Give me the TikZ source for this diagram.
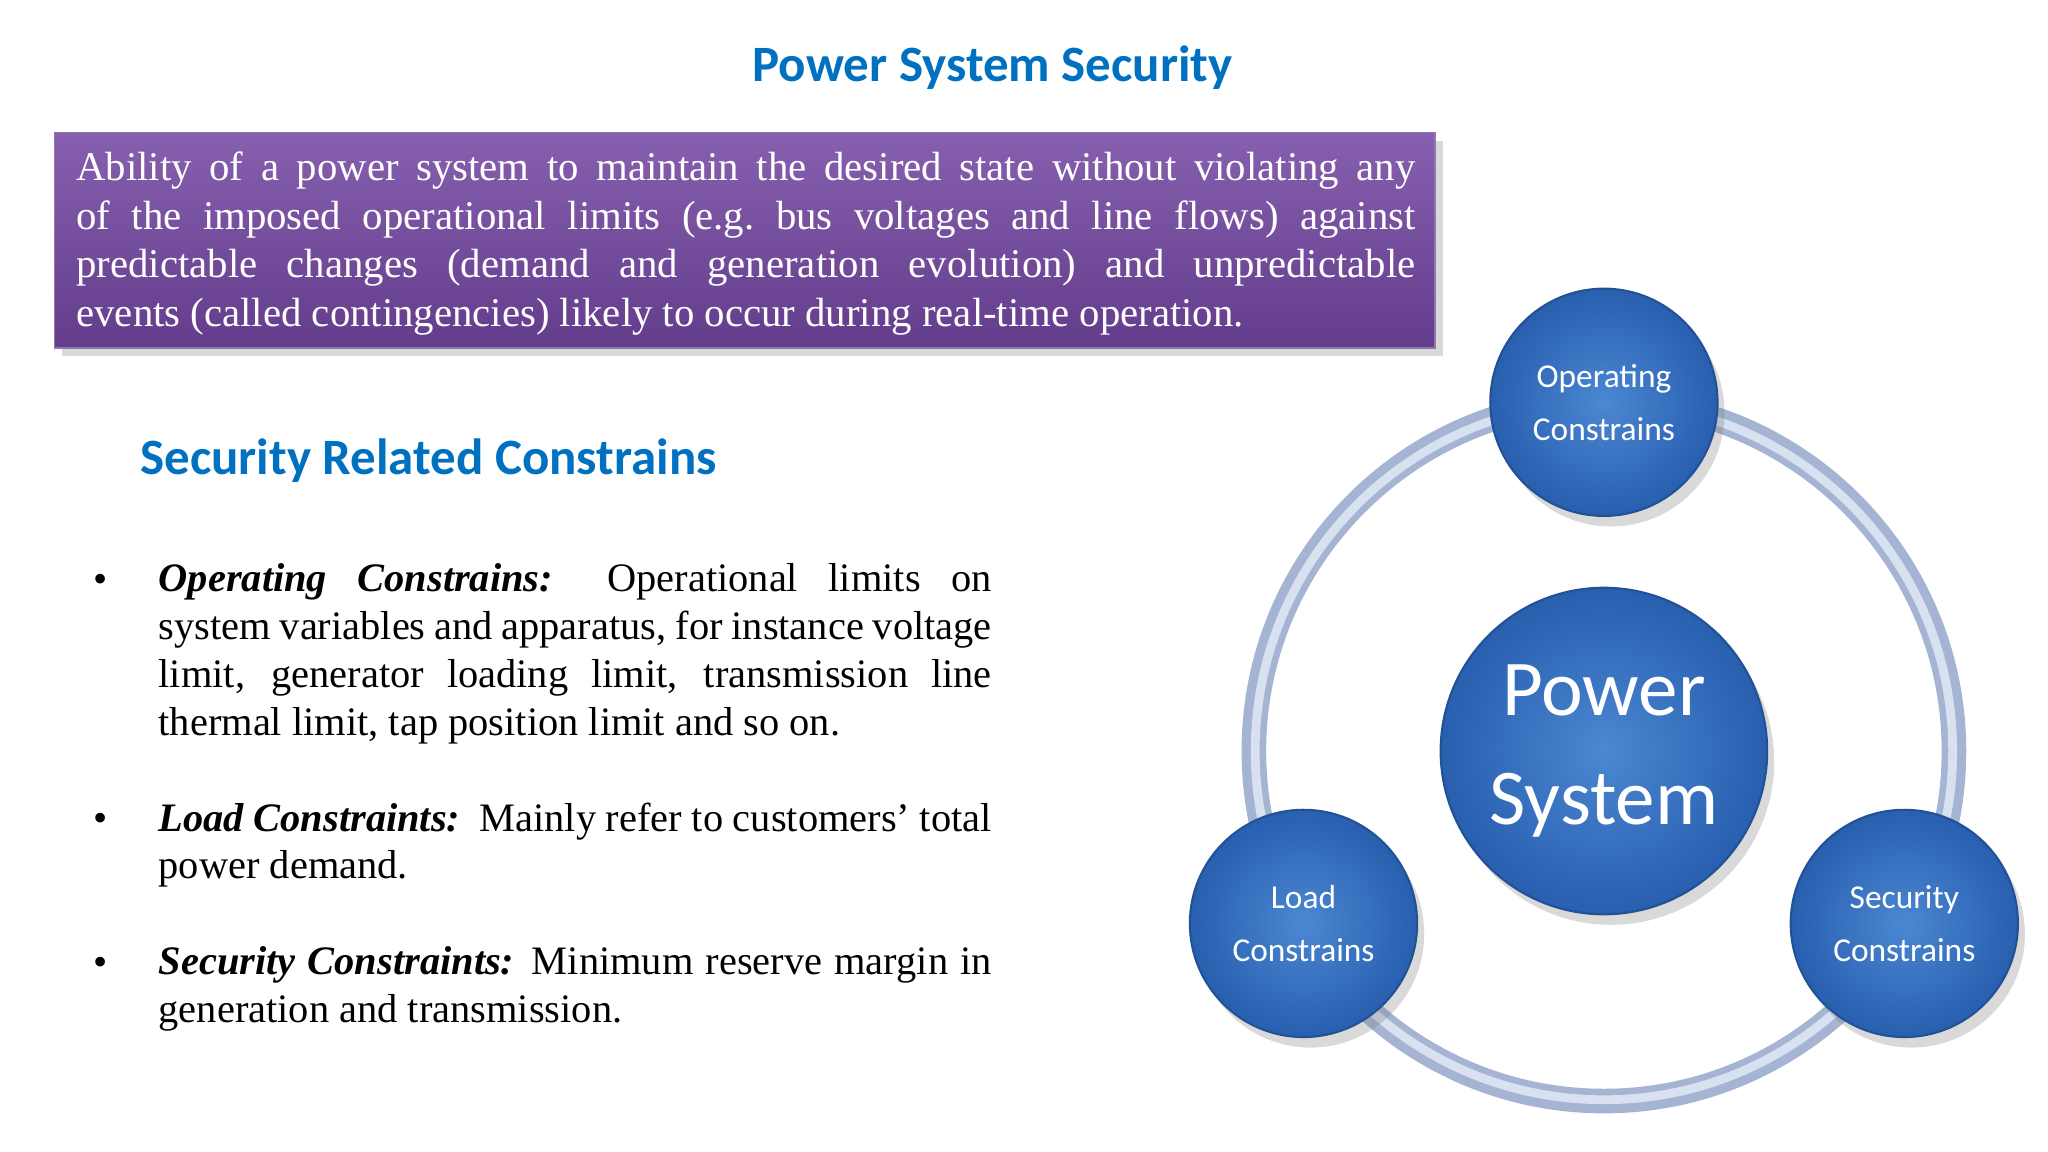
\documentclass[tikz,border=0pt]{standalone}
\usepackage{fontspec}
\setmainfont{Liberation Serif}
\newfontfamily\calfnt{Carlito}
\usetikzlibrary{shadows}
\definecolor{ttl}{RGB}{0,112,192}
\definecolor{ptop}{RGB}{135,95,175}
\definecolor{pbot}{RGB}{100,60,140}
\definecolor{bin}{RGB}{75,135,210}
\definecolor{bout}{RGB}{40,95,175}
\definecolor{ring}{RGB}{165,180,210}
\definecolor{ringin}{RGB}{215,225,240}
\tikzset{
 ball/.style={circle,inner color=bin,outer color=bout,draw=bout!85!black,line width=0.6pt,text=white,align=center,font=\calfnt\fontsize{9.5}{15}\selectfont,drop shadow={opacity=0.3,shadow xshift=2pt,shadow yshift=-3pt}},
 ttlfont/.style={text=ttl,font=\calfnt\bfseries\fontsize{14.5}{17}\selectfont},
 bul/.style={anchor=north west,text width=237pt,align=justify,font=\fontsize{11.5}{13.6}\selectfont,inner sep=0pt},
 dot/.style={font=\fontsize{11.5}{13.6}\selectfont,inner sep=0pt}
}
\hyphenpenalty=10000 \exhyphenpenalty=10000
\begin{document}
\begin{tikzpicture}[x=0.01306cm,y=-0.01306cm]
\useasboundingbox (0,0) rectangle (1568,882);
\node[ttlfont] (title) at (760,52) {Power System Security};
\node[anchor=north west,minimum width=1057*0.01306cm,minimum height=165*0.01306cm,top color=ptop,bottom color=pbot,draw=pbot!70!white,drop shadow={opacity=0.3}] (box) at (41,101) {};
\node[anchor=north west,text width=381pt,align=justify,text=white,font=\fontsize{11.6}{13.8}\selectfont,inner sep=0pt] (boxtxt) at (58,116) {Ability of a power system to maintain the desired state without violating any\linebreak of the imposed operational limits (e.g.\ bus voltages and line flows) against\linebreak predictable changes (demand and generation evolution) and unpredictable\linebreak events (called contingencies) likely to occur during real-time operation.};
\node[ttlfont,anchor=west] (sub) at (98,353) {Security Related Constrains};
\node[bul] (b1) at (121,431) {\textbf{\textit{Operating Constrains:}} Operational limits on\linebreak system variables and apparatus, for instance voltage\linebreak limit, generator loading limit, transmission line\linebreak thermal limit, tap position limit and so on.};
\node[bul] (b2) at (121,614) {\textbf{\textit{Load Constraints:}}\ \ Mainly refer to customers’ total\linebreak power demand.};
\node[bul] (b3) at (121,724) {\textbf{\textit{Security Constraints:}} Minimum reserve margin in\linebreak generation and transmission.};
\node[dot] (d1) at (77,447) {•};
\node[dot] (d2) at (77,630) {•};
\node[dot] (d3) at (77,740) {•};
\coordinate (c) at (1228,575);
\draw[ring,line width=7pt] (c) circle[radius=268*0.01306cm];
\draw[ringin,line width=2.5pt] (c) circle[radius=267*0.01306cm];
\node[ball,minimum size=250*0.01306cm,font=\calfnt\fontsize{22.5}{31}\selectfont] (ps) at (c) {Power\\System};
\node[ball,minimum size=174*0.01306cm] (op) at (1228,308) {Operating\\Constrains};
\node[ball,minimum size=174*0.01306cm] (ld) at (998,707) {Load\\Constrains};
\node[ball,minimum size=174*0.01306cm] (sc) at (1458,707) {Security\\Constrains};
\end{tikzpicture}
\end{document}
